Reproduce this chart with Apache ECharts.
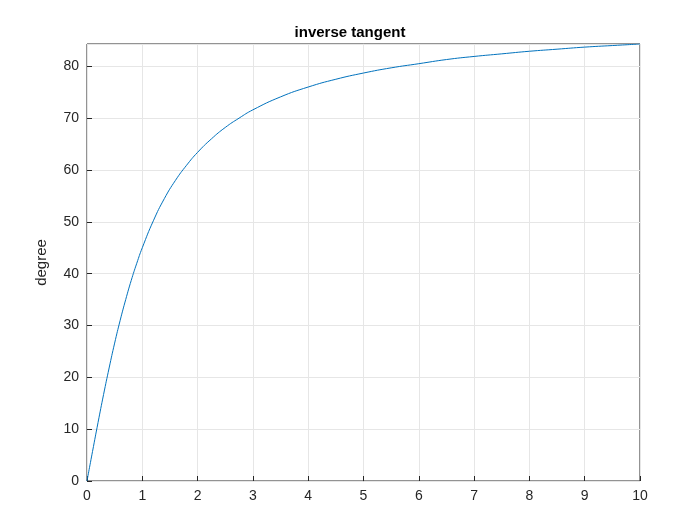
<!DOCTYPE html>
<html>
<head>
<meta charset="utf-8">
<script src="https://cdn.jsdelivr.net/npm/echarts@6/dist/echarts.min.js"></script>
<style>html,body{margin:0;padding:0;background:#fff}#chart{width:700px;height:527px}</style>
</head>
<body>
<div id="chart"></div>
<script>
// values
const xs = [0, 0.1, 0.2, 0.3, 0.4, 0.5, 0.6, 0.7, 0.8, 0.9, 1, 1.2, 1.4, 1.6, 1.8, 2, 2.25, 2.5, 2.75, 3, 3.5, 4, 4.5, 5, 5.5, 6, 6.5, 7, 7.5, 8, 8.5, 9, 9.5, 10]
const degrees = [0, 5.7, 11.3, 16.7, 21.8, 26.6, 31, 35, 38.7, 42, 45, 50.2, 54.5, 58, 60.9, 63.4, 66, 68.2, 70, 71.6, 74.1, 76, 77.5, 78.7, 79.7, 80.5, 81.3, 81.9, 82.4, 82.9, 83.3, 83.7, 84, 84.3]
const xTicks = [0, 1, 2, 3, 4, 5, 6, 7, 8, 9, 10]

let chart = echarts.init(document.getElementById('chart'))
const font = 'Arial, "Liberation Sans", sans-serif'
chart.setOption({
  animation: false,
  title: {
    text: 'inverse tangent', left: 'center', top: 20,
    textStyle: {fontFamily: font, fontSize: 15, fontWeight: 'bold', color: '#000'}
  },
  grid: {left: 87, right: 60, top: 44, bottom: 46, show: true, borderColor: '#262626', borderWidth: 1},
  xAxis: {
    type: 'value', min: 0, max: 10, interval: 1,
    axisLine: {show: false}, axisTick: {show: true, inside: true, length: 5, lineStyle: {color: '#262626'}},
    axisLabel: {color: '#262626', fontSize: 14, fontFamily: font, margin: 8, formatter: v => xTicks.includes(v) ? String(v) : ''},
    splitLine: {show: true, lineStyle: {color: '#e6e6e6'}}
  },
  yAxis: {
    type: 'value', min: 0, max: 84.3, interval: 10,
    name: 'degree', nameLocation: 'middle', nameGap: 38,
    nameTextStyle: {color: '#262626', fontSize: 15, fontFamily: font},
    axisLine: {show: false}, axisTick: {show: true, inside: true, length: 5, lineStyle: {color: '#262626'}},
    axisLabel: {color: '#262626', fontSize: 14, fontFamily: font, showMaxLabel: false},
    splitLine: {show: true, lineStyle: {color: '#e6e6e6'}}
  },
  series: [{
    type: 'line', data: xs.map((x, i) => [x, degrees[i]]), smooth: true,
    showSymbol: false, lineStyle: {color: '#0072bd', width: 1}
  }]
})
</script>
</body>
</html>
